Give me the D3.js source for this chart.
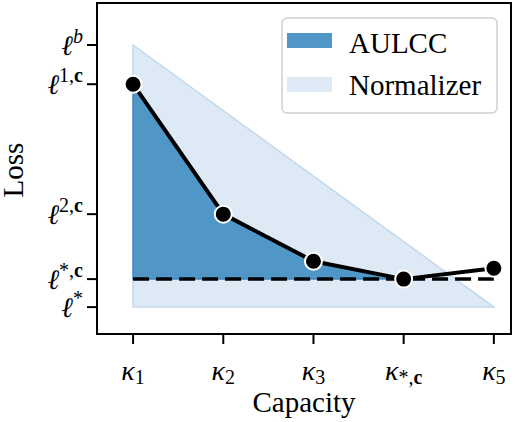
<!DOCTYPE html>
<html>
  <head>
    <meta charset="UTF-8">
    <script src="https://cdn.jsdelivr.net/npm/d3@7"></script>
    <style>
      body { margin: 0; background: #fff; }
      text { font-family: "Liberation Serif", "DejaVu Serif", serif; }
    </style>
  </head>
  <body>
    <script type="text/javascript">

      // capacities (index on x) and losses at each capacity
      var capacity = [1, 2, 3, 4, 5];
      var loss = [7.96, 3.32, 1.64, 1.0, 1.39];

      // reference levels on the loss axis
      var lossBase = 9.36;     // l^b
      var lossStarC = 1.0;     // l^{*,c}
      var lossStar = 0.0;      // l^*

      // tick labels: [superscript / subscript, bold part]
      var yTicks = [lossBase, loss[0], loss[1], lossStarC, lossStar];
      var yTickLabels = [["b", ""], ["1,", "c"], ["2,", "c"], ["*,", "c"], ["*", ""]];
      var xTickLabels = [["1", ""], ["2", ""], ["3", ""], ["*,", "c"], ["5", ""]];

      var width = 515;
      var height = 422;
      var plotLeft = 97, plotRight = 511, plotTop = 3, plotBottom = 334;

      var svg = d3.select('body')
                  .append('svg')
                  .attr('width', width)
                  .attr('height', height);

      var x = d3.scaleLinear().domain([0.6, 5.19]).range([plotLeft, plotRight]);
      var y = d3.scaleLinear().domain([-0.96, 10.86]).range([plotBottom, plotTop]);

      // normalizer: from l^b at first capacity down to l^* at last capacity
      var normalizer = [
        [capacity[0], lossBase, lossStar],
        [capacity[4], lossStar, lossStar]
      ];
      var area = d3.area()
          .x(function(d){ return x(d[0]); })
          .y0(function(d){ return y(d[2]); })
          .y1(function(d){ return y(d[1]); });

      svg.append('path')
          .attr('d', area(normalizer))
          .style('fill', '#dde9f5')
          .style('stroke', '#c2d8ec')
          .style('stroke-width', '1.5px');

      // AULCC: between loss curve and l^{*,c}, up to kappa_{*,c}
      var aulcc = capacity.slice(0, 4).map(function(c, i){
        return [c, loss[i], lossStarC];
      });
      svg.append('path')
          .attr('d', area(aulcc))
          .style('fill', '#5097c8')
          .style('stroke', '#3f86bd')
          .style('stroke-width', '1.5px');

      // dashed line at l^{*,c}
      svg.append('line')
          .attr('x1', x(capacity[0]))
          .attr('x2', x(capacity[4]))
          .attr('y1', y(lossStarC))
          .attr('y2', y(lossStarC))
          .style('stroke', 'black')
          .style('stroke-width', '3.5px')
          .style('stroke-dasharray', '16,7');

      // loss curve
      var line = d3.line()
          .x(function(d, i){ return x(capacity[i]); })
          .y(function(d){ return y(d); });
      svg.append('path')
          .attr('d', line(loss))
          .style('fill', 'none')
          .style('stroke', 'black')
          .style('stroke-width', '4px')
          .style('stroke-linejoin', 'round');

      svg.selectAll('circle')
          .data(loss)
          .enter()
          .append('circle')
          .attr('cx', function(d, i){ return x(capacity[i]); })
          .attr('cy', function(d){ return y(d); })
          .attr('r', 8.5)
          .style('fill', 'black')
          .style('stroke', 'white')
          .style('stroke-width', '2px');

      // frame
      svg.append('rect')
          .attr('x', plotLeft)
          .attr('y', plotTop)
          .attr('width', plotRight - plotLeft)
          .attr('height', plotBottom - plotTop)
          .style('fill', 'none')
          .style('stroke', 'black')
          .style('stroke-width', '2px');

      // y ticks
      yTicks.forEach(function(v, i){
        svg.append('line')
            .attr('x1', plotLeft - 10).attr('x2', plotLeft)
            .attr('y1', y(v)).attr('y2', y(v))
            .style('stroke', 'black').style('stroke-width', '2px');
        var t = svg.append('text')
            .attr('x', plotLeft - 14)
            .attr('y', y(v) + 10)
            .attr('text-anchor', 'end')
            .attr('font-size', '28px');
        t.append('tspan').attr('font-style', 'italic').text('\u2113');
        t.append('tspan')
            .attr('dy', -12)
            .attr('font-size', '20px')
            .attr('font-style', yTickLabels[i][0] === 'b' ? 'italic' : 'normal')
            .text(yTickLabels[i][0]);
        if (yTickLabels[i][1]) {
          t.append('tspan')
              .attr('font-size', '20px')
              .attr('font-weight', 'bold')
              .text(yTickLabels[i][1]);
        }
      });

      // x ticks
      capacity.forEach(function(c, i){
        svg.append('line')
            .attr('x1', x(c)).attr('x2', x(c))
            .attr('y1', plotBottom).attr('y2', plotBottom + 10)
            .style('stroke', 'black').style('stroke-width', '2px');
        var t = svg.append('text')
            .attr('x', x(c))
            .attr('y', 380)
            .attr('text-anchor', 'middle')
            .attr('font-size', '28px');
        t.append('tspan').attr('font-style', 'italic').text('\u03ba');
        t.append('tspan')
            .attr('dy', 4)
            .attr('font-size', '20px')
            .text(xTickLabels[i][0]);
        if (xTickLabels[i][1]) {
          t.append('tspan')
              .attr('font-size', '20px')
              .attr('font-weight', 'bold')
              .text(xTickLabels[i][1]);
        }
      });

      // axis titles
      svg.append('text')
          .attr('x', (plotLeft + plotRight) / 2)
          .attr('y', 412)
          .attr('text-anchor', 'middle')
          .attr('font-size', '29px')
          .text('Capacity');

      svg.append('text')
          .attr('transform', 'translate(23,170) rotate(-90)')
          .attr('text-anchor', 'middle')
          .attr('font-size', '29px')
          .text('Loss');

      // legend
      var legend = svg.append('g');
      legend.append('rect')
          .attr('x', 282).attr('y', 18)
          .attr('width', 215).attr('height', 95)
          .attr('rx', 5)
          .style('fill', 'white').style('fill-opacity', 0.8)
          .style('stroke', '#d0d0d0').style('stroke-width', '1.5px');
      var legendItems = [["AULCC", "#5097c8"], ["Normalizer", "#dde9f5"]];
      legendItems.forEach(function(d, i){
        legend.append('rect')
            .attr('x', 287).attr('y', 33 + i * 44)
            .attr('width', 45).attr('height', 15)
            .style('fill', d[1]);
        legend.append('text')
            .attr('x', 349).attr('y', 53 + i * 42)
            .attr('font-size', '29px')
            .text(d[0]);
      });

    </script>
  </body>
</html>
